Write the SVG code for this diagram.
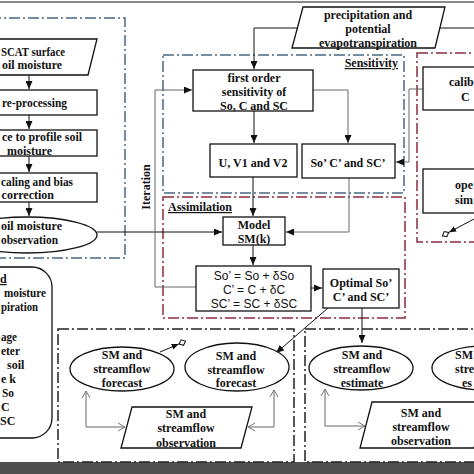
<svg xmlns="http://www.w3.org/2000/svg" width="474" height="474" viewBox="0 0 474 474">
<style>
.t{font-family:"Liberation Serif","DejaVu Serif",serif;font-size:12px;font-weight:bold;fill:#111}
.m{text-anchor:middle}
.e{text-anchor:end}
.q{font-family:"Liberation Sans","DejaVu Sans",sans-serif;font-size:12px;fill:#111;text-anchor:middle}
.u{text-decoration:underline}
.box{fill:#fff;stroke:#111;stroke-width:1.3}
.dd{fill:none;stroke-width:1.5;stroke-dasharray:11 3 2 3}
.blue{stroke:#4a6785}
.red{stroke:#8e2b3c}
.blk{stroke:#222}
.c{fill:none;stroke:#111;stroke-width:1}
.g{fill:none;stroke:#666;stroke-width:1}
</style>
<defs>
<marker id="ah" markerUnits="userSpaceOnUse" markerWidth="8" markerHeight="7" refX="8" refY="3.5" orient="auto"><path d="M0,0 L8,3.5 L0,7 z" fill="#111"/></marker>
<marker id="ch" markerUnits="userSpaceOnUse" markerWidth="9" markerHeight="10" refX="8" refY="5" orient="auto-start-reverse"><path d="M1,1 L8,5 L1,9" fill="none" stroke="#777" stroke-width="1"/></marker>
<marker id="ahd" markerUnits="userSpaceOnUse" markerWidth="16" markerHeight="8" refX="15" refY="4" orient="auto"><path d="M0,1 L7,4 L0,7 z" fill="#111"/><path d="M7.5,4 L11,1 L14.5,4 L11,7 z" fill="#fff" stroke="#111" stroke-width="1"/></marker>
</defs>
<rect x="0" y="0" width="474" height="474" fill="#fff"/>
<line x1="0" y1="2" x2="474" y2="2" stroke="#8a8a8a" stroke-width="2"/>
<rect x="0" y="462" width="474" height="12" fill="#505050"/>

<g id="frames">
<rect class="dd blue" x="-10" y="18" width="135" height="240"/>
<rect class="dd blue" x="163" y="55" width="241" height="138"/>
<rect class="dd red" x="163" y="197" width="242" height="121"/>
<rect class="dd red" x="417" y="53" width="70" height="189"/>
<rect class="dd blk" x="58" y="329" width="236" height="133"/>
<rect class="dd blk" x="305" y="329" width="180" height="133"/>
<text class="t u e" x="398" y="67">Sensitivity</text>
<text class="t u" x="168" y="211">Assimilation</text>
</g>

<g id="connectors">
<path class="c" d="M29,75 V89" marker-end="url(#ah)"/>
<path class="c" d="M29,115 V129" marker-end="url(#ah)"/>
<path class="c" d="M29,156 V172" marker-end="url(#ah)"/>
<path class="c" d="M29,202 V216" marker-end="url(#ah)"/>
<path class="c" d="M97,232 H222" marker-end="url(#ah)"/>
<path class="c" d="M297,28 H254 V69" marker-end="url(#ah)"/>
<path class="c" d="M440,28 H474"/>
<path class="c" d="M254,111 V143" marker-end="url(#ah)"/>
<path class="g" d="M313,90 H348 V143" marker-end="url(#ah)"/>
<path class="c" d="M253,177 V216" marker-end="url(#ah)"/>
<path class="g" d="M349,178 V232 H286" marker-end="url(#ah)"/>
<path class="g" d="M423,89 H409 V162 H396" marker-end="url(#ah)"/>
<path class="c" d="M253,245 V265" marker-end="url(#ah)"/>
<path class="g" d="M196,287 H155 V90 H192" marker-end="url(#ah)"/>
<path class="c" d="M311,288 H322" marker-end="url(#ah)"/>
<path class="c" d="M362,308 V343" marker-end="url(#ah)"/>
<path class="c" d="M328,308 L276,353" marker-end="url(#ah)"/>
<path class="c" d="M474,219 L442,236" marker-end="url(#ahd)"/>
<path class="c" d="M160,352 L186,341" marker-end="url(#ahd)"/>
<path class="g" d="M86,391 V427 H125" marker-start="url(#ch)" marker-end="url(#ch)"/>
<path class="g" d="M274,390 V427 H248" marker-start="url(#ch)" marker-end="url(#ch)"/>
<path class="g" d="M325,389 V426 H365" marker-start="url(#ch)" marker-end="url(#ch)"/>
<text class="t m" transform="translate(150,187) rotate(-90)">Iteration</text>
</g>

<g id="n-ascat">
<path class="box" d="M-20,39 H97 L88,75 H-30 z"/>
<text class="t" x="1" y="56" textLength="64" lengthAdjust="spacingAndGlyphs">SCAT surface</text>
<text class="t" x="2" y="69" textLength="60" lengthAdjust="spacingAndGlyphs">oil moisture</text>
</g>
<g id="n-preproc">
<rect class="box" x="-20" y="90" width="117" height="25"/>
<text class="t" x="2" y="107" textLength="65" lengthAdjust="spacingAndGlyphs">re-processing</text>
</g>
<g id="n-profile">
<rect class="box" x="-20" y="130" width="117" height="26"/>
<text class="t" x="2" y="141" textLength="80" lengthAdjust="spacingAndGlyphs">ce to profile soil</text>
<text class="t e" x="52" y="155">moisture</text>
</g>
<g id="n-scaling">
<rect class="box" x="-20" y="173" width="117" height="29"/>
<text class="t" x="1" y="186" textLength="72" lengthAdjust="spacingAndGlyphs">caling and bias</text>
<text class="t e" x="54" y="199">correction</text>
</g>
<g id="n-obs">
<ellipse class="box" cx="27" cy="235" rx="70" ry="18"/>
<text class="t" x="1" y="230" textLength="61" lengthAdjust="spacingAndGlyphs">oil moisture</text>
<text class="t" x="1" y="244" textLength="57" lengthAdjust="spacingAndGlyphs">observation</text>
</g>
<g id="n-legend">
<rect class="box" x="-30" y="267" width="82" height="171" rx="20"/>
<text class="t u" x="0" y="283">d</text>
<text class="t" x="4" y="297" textLength="42" lengthAdjust="spacingAndGlyphs">moisture</text>
<text class="t" x="1" y="311" textLength="37" lengthAdjust="spacingAndGlyphs">piration</text>
<text class="t" x="1" y="341" textLength="16" lengthAdjust="spacingAndGlyphs">age</text>
<text class="t" x="1" y="355" textLength="19" lengthAdjust="spacingAndGlyphs">eter</text>
<text class="t" x="7" y="369">soil</text>
<text class="t" x="1" y="383">e k</text>
<text class="t" x="2" y="397" textLength="12" lengthAdjust="spacingAndGlyphs">So</text>
<text class="t" x="1" y="411">C</text>
<text class="t" x="0" y="425">SC</text>
</g>
<g id="n-precip">
<path class="box" d="M303,7 H445 L435,48 H292 z"/>
<text class="t m" x="368" y="19">precipitation and</text>
<text class="t m" x="368" y="33">potential</text>
<text class="t m" x="368" y="47">evapotranspiration</text>
</g>
<g id="n-first">
<rect class="box" x="193" y="70" width="120" height="41"/>
<text class="t m" x="254" y="82">first order</text>
<text class="t m" x="254" y="96">sensitivity of</text>
<text class="t m" x="254" y="110">So, C and SC</text>
</g>
<g id="n-uv">
<rect class="box" x="210" y="144" width="87" height="33"/>
<text class="t m" x="253" y="167">U, V1 and V2</text>
</g>
<g id="n-soc">
<rect class="box" x="302" y="144" width="93" height="34"/>
<text class="t m" x="348" y="167">So’  C’ and SC’</text>
</g>
<g id="n-calib">
<rect class="box" x="423" y="67" width="70" height="43"/>
<text class="t" x="449" y="86">calib</text>
<text class="t" x="461" y="101">C</text>
</g>
<g id="n-open">
<rect class="box" x="423" y="169" width="70" height="44"/>
<text class="t" x="455" y="189">ope</text>
<text class="t" x="455" y="204">sim</text>
</g>
<g id="n-model">
<rect class="box" x="223" y="217" width="62" height="28"/>
<text class="t m" x="254" y="229">Model</text>
<text class="t m" x="254" y="243">SM(k)</text>
</g>
<g id="n-eq">
<rect class="box" x="196" y="266" width="115" height="45"/>
<text class="q" x="254" y="280">So’ = So + δSo</text>
<text class="q" x="254" y="294">C’ = C + δC</text>
<text class="q" x="254" y="308">SC’ = SC + δSC</text>
</g>
<g id="n-optimal">
<rect class="box" x="323" y="269" width="76" height="39"/>
<text class="t m" x="361" y="287">Optimal So’</text>
<text class="t m" x="361" y="301">C’ and SC’</text>
</g>
<g id="n-fc1">
<ellipse class="box" cx="122" cy="369" rx="52" ry="22"/>
<text class="t m" x="122" y="359">SM and</text>
<text class="t m" x="122" y="373">streamflow</text>
<text class="t m" x="122" y="387">forecast</text>
</g>
<g id="n-fc2">
<ellipse class="box" cx="237" cy="367" rx="52" ry="24"/>
<text class="t m" x="236" y="360">SM and</text>
<text class="t m" x="236" y="374">streamflow</text>
<text class="t m" x="236" y="387">forecast</text>
</g>
<g id="n-obs1">
<path class="box" d="M132,407 H252 L241,448 H121 z"/>
<text class="t m" x="186" y="418">SM and</text>
<text class="t m" x="186" y="432">streamflow</text>
<text class="t m" x="186" y="447">observation</text>
</g>
<g id="n-est1">
<ellipse class="box" cx="361" cy="368" rx="52" ry="22"/>
<text class="t m" x="362" y="359">SM and</text>
<text class="t m" x="362" y="373">streamflow</text>
<text class="t m" x="362" y="387">estimate</text>
</g>
<g id="n-est2">
<ellipse class="box" cx="485" cy="368" rx="53" ry="22"/>
<text class="t" x="455" y="359">SM</text>
<text class="t" x="455" y="373">stre</text>
<text class="t" x="462" y="387">es</text>
</g>
<g id="n-obs2">
<path class="box" d="M372,402 H486 L474,448 H360 z"/>
<text class="t m" x="421" y="417">SM and</text>
<text class="t m" x="421" y="431">streamflow</text>
<text class="t m" x="421" y="445">observation</text>
</g>
</svg>
